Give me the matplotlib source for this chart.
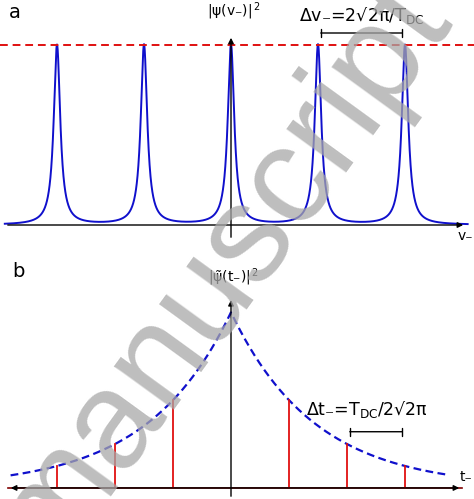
import numpy as np
import matplotlib
matplotlib.use("Agg")
import matplotlib.pyplot as plt

peak_pos = [-2, -1, 0, 1, 2]
peak_width = 0.045
stem_pos = [-3, -2, -1, 1, 2, 3]
decay_per_step = 0.5

fig = plt.figure(figsize=(4.74, 4.99), dpi=100)
W, H = 474, 499

# panel a
axa = fig.add_axes([0, 1 - 245 / H, 1, 245 / H])
axa.set_xlim(-231 / 87, (W - 231) / 87)
axa.set_ylim((225 - 245) / 180, 225 / 180)
axa.axis("off")
x = np.linspace(-2.6, 2.72, 4000)
y = sum(peak_width**2 / ((x - p) ** 2 + peak_width**2) for p in peak_pos)
axa.plot(x, y, color="#1010cc", lw=1.4)
axa.axhline(1.0, color="#e01010", ls=(0, (4, 2.5)), lw=1.4)
ap = dict(arrowstyle="-|>", color="black", lw=1.0, mutation_scale=8)
axa.annotate("", xy=((466 - 231) / 87, 0), xytext=((5 - 231) / 87, 0), arrowprops=ap)
axa.annotate("", xy=(0, (225 - 35) / 180), xytext=(0, (225 - 240) / 180), arrowprops=ap)
axa.text(0.03, 1.13, "|ψ(v₋)|$^{\,2}$", fontsize=10, ha="center", va="bottom")
axa.text((473 - 231) / 87, -0.02, "v₋", fontsize=10, ha="right", va="top")
axa.annotate("", xy=(1, (225 - 33) / 180), xytext=(2, (225 - 33) / 180),
             arrowprops=dict(arrowstyle="|-|", color="black", lw=1.0, mutation_scale=3))
axa.text(1.5, (225 - 15) / 180, "Δv₋=2√2π/T$_{\\mathrm{DC}}$", fontsize=12.5, ha="center", va="center")
axa.text(-2.55, (225 - 12) / 180, "a", fontsize=14, ha="left", va="center")

# panel b
axb = fig.add_axes([0, 0, 1, 250 / H])
axb.set_xlim(-231 / 58, (W - 231) / 58)
axb.set_ylim((488 - 499) / 175, (488 - 250) / 175)
axb.axis("off")
t = np.linspace(-3.8, 3.75, 800)
axb.plot(t, decay_per_step ** np.abs(t), color="#1010cc", ls=(0, (3.5, 2)), lw=1.6)
for p in stem_pos:
    axb.plot([p, p], [0, decay_per_step ** abs(p)], color="#e01010", lw=1.3)
ap2 = dict(arrowstyle="<|-|>", color="black", lw=1.0, mutation_scale=8)
axb.plot([(8 - 231) / 58, (462 - 231) / 58], [0, 0], color="#800000", lw=1.2, zorder=1)
axb.annotate("", xy=((462 - 231) / 58, 0), xytext=((8 - 231) / 58, 0), arrowprops=ap2)
axb.annotate("", xy=(0, (488 - 298) / 175), xytext=(0, (488 - 499) / 175), arrowprops=ap)
axb.text(0.05, (488 - 278) / 175, "|ψ̃(t₋)|$^{\,2}$", fontsize=10, ha="center", va="center")
axb.text((473 - 231) / 58, 0.02, "t₋", fontsize=10, ha="right", va="bottom")
axb.annotate("", xy=(2, (488 - 432) / 175), xytext=(3, (488 - 432) / 175),
             arrowprops=dict(arrowstyle="|-|", color="black", lw=1.0, mutation_scale=3))
axb.text(2.35, (488 - 410) / 175, "Δt₋=T$_{\\mathrm{DC}}$/2√2π", fontsize=12.5, ha="center", va="center")
axb.text(-3.78, (488 - 272) / 175, "b", fontsize=14, ha="left", va="center")

fig.text(0.47, 0.46, "manuscript", fontsize=100, family="Liberation Sans", color="#a8a8a8",
         alpha=0.75, rotation=54, ha="center", va="center", zorder=10)

fig.savefig("out.png", dpi=100, facecolor="white")
